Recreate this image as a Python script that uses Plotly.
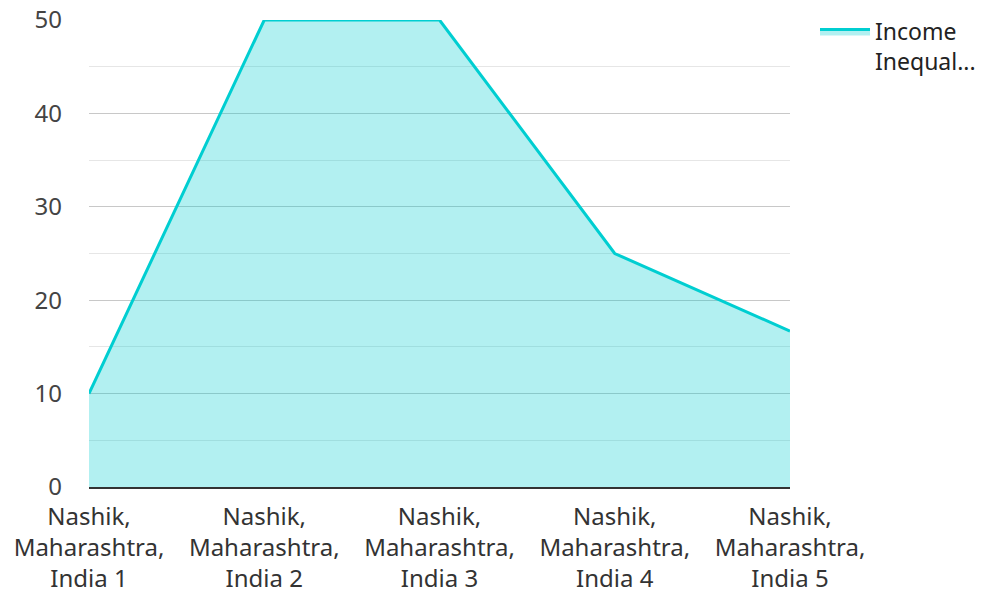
import plotly.graph_objects as go

categories = [
    "Nashik,<br>Maharashtra,<br>India 1",
    "Nashik,<br>Maharashtra,<br>India 2",
    "Nashik,<br>Maharashtra,<br>India 3",
    "Nashik,<br>Maharashtra,<br>India 4",
    "Nashik,<br>Maharashtra,<br>India 5",
]
income_inequality = [10, 50, 50, 25, 16.7]
series_name = "Income<br>Inequal..."
y_ticks = [0, 10, 20, 30, 40, 50]

W, H = 984, 592

fig = go.Figure()
fig.add_trace(go.Scatter(
    x=list(range(len(categories))),
    y=income_inequality,
    mode="lines",
    name=series_name,
    line=dict(color="#00CED1", width=3),
    fill="tozeroy",
    fillcolor="rgba(0,206,209,0.3)",
))

font = "Noto Sans, Open Sans, sans-serif"
fig.update_layout(
    width=W, height=H,
    margin=dict(l=89, r=194, t=20, b=105, autoexpand=False),
    paper_bgcolor="white", plot_bgcolor="white",
    font=dict(family=font, size=24, color="#333333"),
    showlegend=True,
    legend=dict(xref="container", yref="container",
                x=815 / W, y=1 - 10 / H, xanchor="left", yanchor="top",
                itemwidth=50, valign="top",
                font=dict(size=23, color="#222222"),
                bgcolor="rgba(0,0,0,0)"),
    xaxis=dict(
        range=[0, len(categories) - 1],
        tickmode="array",
        tickvals=list(range(len(categories))),
        ticktext=categories,
        showgrid=False, zeroline=False,
        showline=True, linecolor="#333333", linewidth=2,
        ticks="", ticklabelstandoff=7, automargin=False,
        tickfont=dict(size=24, color="#333333"),
    ),
    yaxis=dict(
        range=[0, 50],
        tickmode="array", tickvals=y_ticks,
        showgrid=True, gridcolor="#c8c8c8", gridwidth=1,
        minor=dict(dtick=5, showgrid=True, gridcolor="#e6e6e6", gridwidth=1),
        zeroline=False, showline=False, ticks="",
        ticklabelstandoff=26, automargin=False,
        tickfont=dict(size=24, color="#444444"),
    ),
)

fig.write_html("out.html")
